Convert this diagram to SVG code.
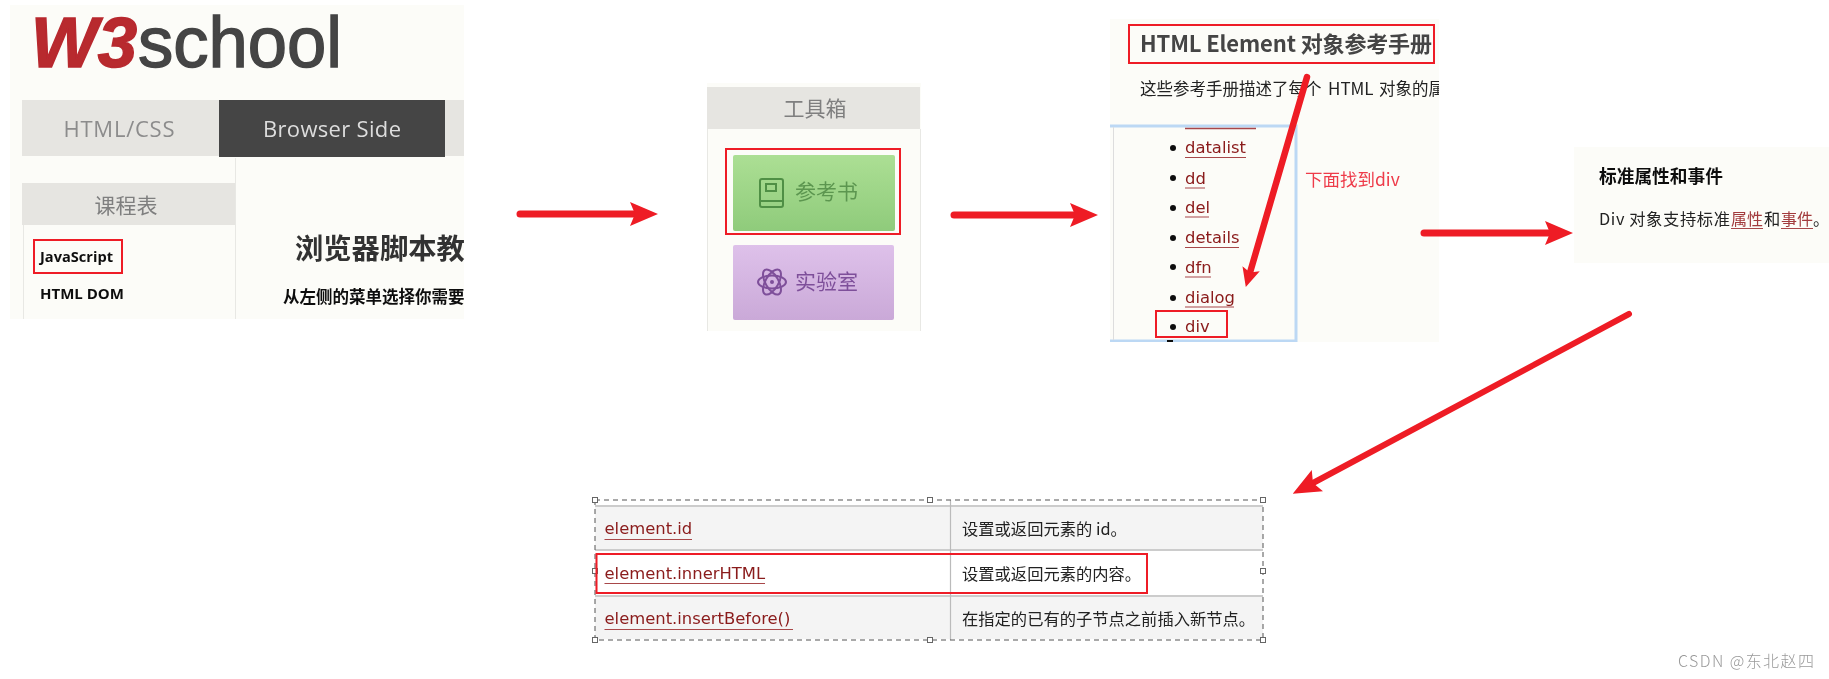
<svg xmlns="http://www.w3.org/2000/svg" width="1829" height="679" viewBox="0 0 1829 679">
<style>
text{font-family:"Noto Sans CJK SC","Noto Sans",sans-serif}
.panel{fill:#fcfcf8}
.head{fill:#e6e5e1}
.hl{fill:none;stroke:#ee1c25;stroke-width:2}
.ar{fill:none;stroke:#ee1c25;stroke-width:7;stroke-linecap:round}
.gt{fill:#7f7f7f;font-size:21px;text-anchor:middle}
.dv{font-family:"DejaVu Sans",sans-serif;font-size:16.4px;fill:#8a1a1a}
.ul{stroke:#a8464a;stroke-width:1.2}
.blk{fill:#222;font-size:16.3px}
.ln{fill:#a23a3c;font-size:16px}
.hd{fill:#fff;stroke:#666;stroke-width:1}
</style>
<defs>
<marker id="big" markerUnits="userSpaceOnUse" markerWidth="28" markerHeight="24" refX="5" refY="12" orient="auto"><path d="M0,0L28,12L0,24L5,12Z" fill="#ee1c25"/></marker>
<marker id="small" markerUnits="userSpaceOnUse" markerWidth="19" markerHeight="18" refX="4" refY="9" orient="auto"><path d="M0,0L19,9L0,18L4,9Z" fill="#ee1c25"/></marker>
<linearGradient id="gg" x1="0" y1="0" x2="0" y2="1"><stop offset="0" stop-color="#acdf94"/><stop offset="1" stop-color="#8fcb7b"/></linearGradient>
<linearGradient id="pg" x1="0" y1="0" x2="0" y2="1"><stop offset="0" stop-color="#dec1ea"/><stop offset="1" stop-color="#caa9d8"/></linearGradient>
<clipPath id="c3"><rect x="1110" y="19" width="329" height="323"/></clipPath>
<filter id="soft" x="0" y="0" width="1" height="1"><feGaussianBlur stdDeviation="0.35"/></filter>
</defs>
<rect width="1829" height="679" fill="#fff"/>
<g id="panel-w3school" filter="url(#soft)">
<rect class="panel" x="10" y="5" width="454" height="314"/>
<text x="31" y="67" font-size="70" font-weight="700" font-style="italic" fill="#b8292f" stroke="#b8292f" stroke-width="1.500" textLength="106" lengthAdjust="spacingAndGlyphs" style="font-family:'Liberation Sans',sans-serif">W3</text>
<text x="138" y="67" font-size="72" fill="#444" stroke="#444" stroke-width="1.400" textLength="204" lengthAdjust="spacingAndGlyphs" style="font-family:'Liberation Sans',sans-serif">school</text>
<rect class="head" x="22" y="100" width="442" height="56"/>
<rect x="219" y="100" width="226" height="57" fill="#444"/>
<text x="119" y="137" font-size="22" fill="#8c8c8c" text-anchor="middle" textLength="111" style="font-family:'Open Sans',sans-serif">HTML/CSS</text>
<text x="332" y="137" font-size="22" fill="#ddd" text-anchor="middle" textLength="138" style="font-family:'Open Sans',sans-serif">Browser Side</text>
<path d="M23.500 225V319M235.500 158V319" stroke="#e8e8e4" fill="none"/>
<rect class="head" x="22" y="183" width="213" height="42"/>
<text class="gt" x="126" y="213">课程表</text>
<rect class="hl" x="34" y="240" width="88" height="33"/>
<text x="40" y="262" font-size="15" font-weight="700" fill="#111" textLength="73" lengthAdjust="spacingAndGlyphs" style="font-family:'Open Sans',sans-serif">JavaScript</text>
<text x="40" y="299" font-size="15" font-weight="700" fill="#111" textLength="84" lengthAdjust="spacingAndGlyphs" style="font-family:'Open Sans',sans-serif">HTML DOM</text>
<text x="295" y="259" font-size="28.300" font-weight="700" fill="#333">浏览器脚本教</text>
<text x="283" y="303" font-size="16.500" font-weight="700" fill="#111">从左侧的菜单选择你需要</text>
</g>
<g id="panel-toolbox" filter="url(#soft)">
<rect class="panel" x="707" y="83" width="214" height="248"/>
<rect class="head" x="707" y="87" width="213" height="42"/>
<path d="M707.500 129V331M920.500 129V331" stroke="#e8e8e4" fill="none"/>
<text class="gt" x="815" y="116">工具箱</text>
<rect x="733" y="155" width="162" height="76" rx="2" fill="url(#gg)"/>
<rect class="hl" x="726" y="149" width="174" height="85"/>
<g fill="none" stroke="#4f8f45" stroke-width="2"><rect x="760" y="179" width="23" height="28" rx="2"/><rect x="766" y="184" width="10" height="7"/><path d="M761 201H783"/></g>
<text x="795" y="199" font-size="21" fill="#5c9650">参考书</text>
<rect x="733" y="245" width="161" height="75" rx="2" fill="url(#pg)"/>
<g fill="none" stroke="#7e4f9a" stroke-width="2"><ellipse cx="772" cy="282" rx="14" ry="6.500"/><ellipse cx="772" cy="282" rx="14" ry="6.500" transform="rotate(60 772 282)"/><ellipse cx="772" cy="282" rx="14" ry="6.500" transform="rotate(120 772 282)"/></g>
<circle cx="772" cy="282" r="2" fill="#7e4f9a"/>
<text x="795" y="289" font-size="21" fill="#7e4f9a">实验室</text>
</g>
<g id="panel-element" filter="url(#soft)">
<rect class="panel" x="1110" y="19" width="329" height="323"/>
<text x="1140" y="52" font-size="22" font-weight="700" fill="#444" textLength="292">HTML Element 对象参考手册</text>
<text x="1140" y="95" font-size="16.500" fill="#222">这些参考手册描述了每个</text>
<text x="1328" y="95" font-size="17" fill="#222">HTML</text>
<text x="1379" y="95" font-size="16.500" fill="#222" clip-path="url(#c3)">对象的属性</text>
<path d="M1110 126H1296V341H1110" fill="none" stroke="#bcd8f4" stroke-width="3"/>
<path d="M1113.500 127V340" stroke="#ddd" fill="none"/>
<path d="M1185 128.500H1256" stroke="#a8464a" stroke-width="1.500"/>
<g fill="#111"><circle cx="1173" cy="148" r="3"/><circle cx="1173" cy="178" r="3"/><circle cx="1173" cy="208" r="3"/><circle cx="1173" cy="238" r="3"/><circle cx="1173" cy="267" r="3"/><circle cx="1173" cy="298" r="3"/><circle cx="1173" cy="327" r="3"/><rect x="1167" y="340" width="6" height="2"/></g>
<text class="dv" x="1185" y="153">datalist</text>
<text class="dv" x="1185" y="184">dd</text>
<text class="dv" x="1185" y="213">del</text>
<text class="dv" x="1185" y="243">details</text>
<text class="dv" x="1185" y="273">dfn</text>
<text class="dv" x="1185" y="303">dialog</text>
<text class="dv" x="1185" y="332">div</text>
<path class="ul" d="M1185 157.500H1246M1185 188H1205M1185 217H1209M1185 247.500H1239M1185 277H1211M1185 307H1234"/>
<rect class="hl" x="1156" y="311" width="71" height="26"/>
<rect class="hl" x="1129" y="25" width="305" height="38"/>
<text x="1305" y="186" font-size="17.500" fill="#ee3b4a">下面找到div</text>
</g>
<g id="panel-events" filter="url(#soft)">
<rect class="panel" x="1574" y="147" width="255" height="116"/>
<text x="1599" y="183" font-size="17.700" font-weight="700" fill="#111">标准属性和事件</text>
<text class="blk" x="1599" y="225" textLength="131">Div 对象支持标准</text>
<text class="ln" x="1731" y="225">属性</text>
<text class="blk" x="1764" y="225">和</text>
<text class="ln" x="1781" y="225">事件</text>
<text class="blk" x="1813" y="225">。</text>
<path class="ul" d="M1731 228.500H1763M1781 228.500H1813"/>
</g>
<g id="panel-table" filter="url(#soft)">
<rect x="595" y="506" width="668" height="44" fill="#f4f4f4"/>
<rect x="595" y="596" width="668" height="43" fill="#f4f4f4"/>
<path d="M595 506H1263M595 550H1263M595 596H1263" stroke="#ccc" stroke-width="2" fill="none"/>
<path d="M950.500 500V640" stroke="#bbb" stroke-width="1.200" fill="none"/>
<rect x="595" y="500" width="668" height="140" fill="none" stroke="#555" stroke-dasharray="5 4"/>
<g><rect class="hd" x="592.500" y="497.500" width="5" height="5"/><rect class="hd" x="927.500" y="497.500" width="5" height="5"/><rect class="hd" x="1260.500" y="497.500" width="5" height="5"/><rect class="hd" x="592.500" y="568.500" width="5" height="5"/><rect class="hd" x="1260.500" y="568.500" width="5" height="5"/><rect class="hd" x="592.500" y="637.500" width="5" height="5"/><rect class="hd" x="927.500" y="637.500" width="5" height="5"/><rect class="hd" x="1260.500" y="637.500" width="5" height="5"/></g>
<text class="dv" x="604.500" y="534">element.id</text>
<text class="dv" x="604.500" y="579">element.innerHTML</text>
<text class="dv" x="604.500" y="624">element.insertBefore()</text>
<path class="ul" d="M604.500 539.500H692M604.500 583.500H765M604.500 629.500H793"/>
<text class="blk" x="962" y="535">设置或返回元素的 id。</text>
<text class="blk" x="962" y="580">设置或返回元素的内容。</text>
<text class="blk" x="962" y="625">在指定的已有的子节点之前插入新节点。</text>
<rect class="hl" x="596.500" y="554" width="550.500" height="39"/>
</g>
<g id="connectors">
<path class="ar" d="M520 214H635" marker-end="url(#big)"/>
<path class="ar" d="M954 215H1075" marker-end="url(#big)"/>
<path class="ar" d="M1424 233H1550" marker-end="url(#big)"/>
<path class="ar" d="M1307 77L1250 272.600" style="stroke-width:6.500" marker-end="url(#small)"/>
<path class="ar" d="M1629 314L1313 483" style="stroke-width:6" marker-end="url(#big)"/>
</g>
<text id="watermark" x="1678" y="667" font-size="16" fill="#9a9a9a" font-weight="300" textLength="136">CSDN @东北赵四</text>
</svg>
